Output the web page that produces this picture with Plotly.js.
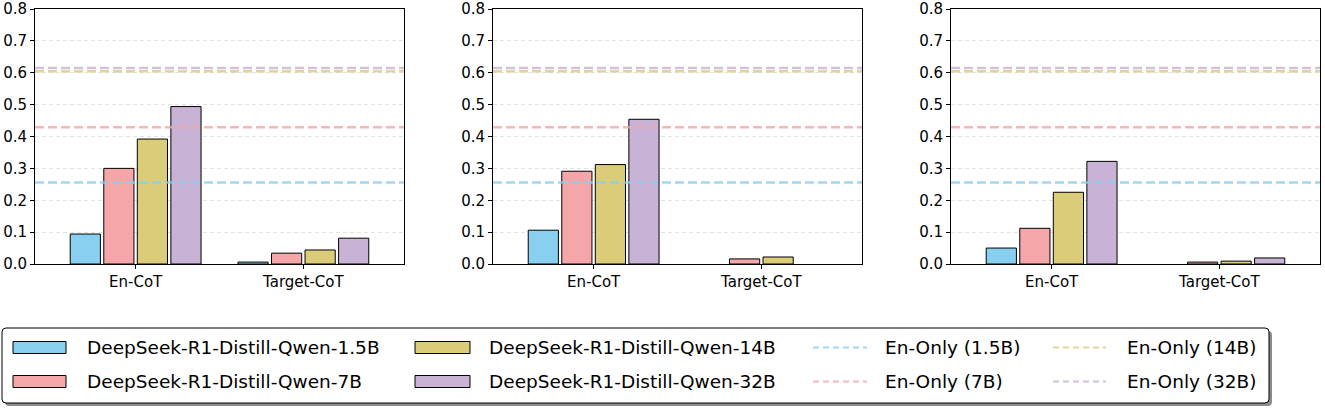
<!DOCTYPE html>
<html>
<head>
<meta charset="utf-8">
<script src="https://cdn.plot.ly/plotly-3.0.1.min.js"></script>
<style>body{margin:0;background:#fff}</style>
</head>
<body>
<div id="myDiv" style="width:1325px;height:410px;"></div>
<script>
var categories = ['En-CoT', 'Target-CoT'];
var models = ['DeepSeek-R1-Distill-Qwen-1.5B', 'DeepSeek-R1-Distill-Qwen-7B',
              'DeepSeek-R1-Distill-Qwen-14B', 'DeepSeek-R1-Distill-Qwen-32B'];
var colors = ['#89CFF0', '#F4A6A8', '#DBCC7A', '#C8B2D6'];
var yTicks = [0, 0.1, 0.2, 0.3, 0.4, 0.5, 0.6, 0.7, 0.8];

// one row per model: [En-CoT, Target-CoT]; null = no bar drawn
var panel1 = [[0.094, 0.006], [0.300, 0.034], [0.392, 0.044], [0.494, 0.081]];
var panel2 = [[0.106, null], [0.291, 0.016], [0.312, 0.022], [0.454, null]];
var panel3 = [[0.050, null], [0.112, 0.006], [0.225, 0.009], [0.322, 0.019]];

var enOnlyLabels = ['En-Only (1.5B)', 'En-Only (7B)', 'En-Only (14B)', 'En-Only (32B)'];
var enOnly = [0.256, 0.429, 0.605, 0.615];

var W = 1325, H = 410;
var FONT = 'DejaVu Sans';
function px(x) { return x / W; }
function py(y) { return 1 - y / H; }

var panels = [panel1, panel2, panel3];
var domains = [[35, 404], [493, 862], [951, 1320]];

var data = [];
var shapes = [];
var annotations = [];
var layout = {
  width: W, height: H,
  margin: {l: 0, r: 0, t: 0, b: 0},
  paper_bgcolor: '#fff', plot_bgcolor: '#fff',
  barmode: 'group', bargap: 0.2, bargroupgap: 0.1,
  showlegend: false,
  font: {family: FONT, size: 15, color: '#000'}
};

for (var p = 0; p < panels.length; p++) {
  var sfx = p == 0 ? '' : String(p + 1);
  for (var m = 0; m < models.length; m++) {
    data.push({
      type: 'bar',
      x: categories,
      y: panels[p][m],
      name: models[m],
      xaxis: 'x' + sfx, yaxis: 'y' + sfx,
      marker: {color: colors[m], line: {color: '#000', width: 1}},
      hoverinfo: 'y'
    });
  }
  layout['xaxis' + sfx] = {
    domain: [px(domains[p][0]), px(domains[p][1])],
    anchor: 'y' + sfx,
    type: 'category',
    range: [-0.6, 1.6],
    showline: true, mirror: true, linecolor: '#000', linewidth: 1,
    ticks: 'outside', ticklen: 4, tickcolor: '#000',
    showgrid: false, zeroline: false,
    tickfont: {family: FONT, size: 15}
  };
  layout['yaxis' + sfx] = {
    domain: [py(264), py(9)],
    anchor: 'x' + sfx,
    range: [0, 0.8],
    tickmode: 'array', tickvals: yTicks, ticktext: yTicks.map(function (v) { return v.toFixed(1); }),
    ticklabeloverflow: 'allow',
    showline: true, mirror: true, linecolor: '#000', linewidth: 1,
    ticks: 'outside', ticklen: 4, tickcolor: '#000',
    showgrid: true, gridcolor: '#dcdcdc', griddash: '4px,3px', gridwidth: 0.8,
    zeroline: false,
    tickfont: {family: FONT, size: 15}
  };
  for (var k = 0; k < enOnly.length; k++) {
    shapes.push({
      type: 'line', xref: 'x' + sfx + ' domain', yref: 'y' + sfx,
      x0: 0, x1: 1, y0: enOnly[k], y1: enOnly[k],
      opacity: 0.8,
      line: {color: colors[k], width: 2.5, dash: '9px,4px'}
    });
  }
}

// legend box (drawn by hand to get the wide matplotlib-style swatches)
function roundRect(x0, y0, x1, y1, r) {
  var rx = r / W, ry = r / H;
  var a = px(x0), b = px(x1), t = py(y0), u = py(y1);
  return 'M' + (a + rx) + ',' + t + ' L' + (b - rx) + ',' + t +
    ' Q' + b + ',' + t + ' ' + b + ',' + (t - ry) +
    ' L' + b + ',' + (u + ry) + ' Q' + b + ',' + u + ' ' + (b - rx) + ',' + u +
    ' L' + (a + rx) + ',' + u + ' Q' + a + ',' + u + ' ' + a + ',' + (u + ry) +
    ' L' + a + ',' + (t - ry) + ' Q' + a + ',' + t + ' ' + (a + rx) + ',' + t + ' Z';
}
shapes.push({type: 'path', xref: 'paper', yref: 'paper', path: roundRect(5, 331, 1272, 406, 4),
  fillcolor: 'rgba(0,0,0,0.45)', line: {width: 0}});
shapes.push({type: 'path', xref: 'paper', yref: 'paper', path: roundRect(2, 328, 1269, 403, 4),
  fillcolor: '#fff', line: {color: '#000', width: 1}});

var rowY = [347.5, 381.5];
var swatchX = [[13, 66], [415, 470]];
var lineX = [[813, 867], [1053, 1106]];
var textX = [85, 487, 883, 1125];

for (var i = 0; i < models.length; i++) {
  var col = Math.floor(i / 2), row = i % 2;
  shapes.push({
    type: 'rect', xref: 'paper', yref: 'paper',
    x0: px(swatchX[col][0]), x1: px(swatchX[col][1]),
    y0: py(rowY[row] - 6), y1: py(rowY[row] + 6),
    fillcolor: colors[i], line: {color: '#000', width: 1}
  });
  annotations.push({
    xref: 'paper', yref: 'paper', x: px(textX[col]), y: py(rowY[row]),
    xanchor: 'left', yanchor: 'middle', showarrow: false,
    text: models[i], font: {family: FONT, size: 18.5, color: '#000'}
  });
}
for (var j = 0; j < enOnlyLabels.length; j++) {
  var col2 = Math.floor(j / 2), row2 = j % 2;
  shapes.push({
    type: 'line', xref: 'paper', yref: 'paper',
    x0: px(lineX[col2][0]), x1: px(lineX[col2][1]),
    y0: py(rowY[row2]), y1: py(rowY[row2]),
    opacity: 0.8,
    line: {color: colors[j], width: 2, dash: '6px,4px'}
  });
  annotations.push({
    xref: 'paper', yref: 'paper', x: px(textX[col2 + 2]), y: py(rowY[row2]),
    xanchor: 'left', yanchor: 'middle', showarrow: false,
    text: enOnlyLabels[j], font: {family: FONT, size: 18.5, color: '#000'}
  });
}

layout.shapes = shapes;
layout.annotations = annotations;

Plotly.newPlot('myDiv', data, layout, {displayModeBar: false, staticPlot: true});
</script>
</body>
</html>
